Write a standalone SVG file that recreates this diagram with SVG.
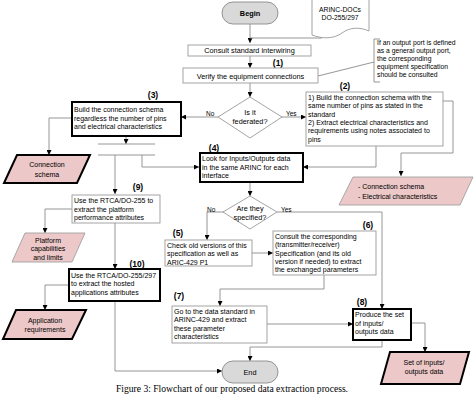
<svg xmlns="http://www.w3.org/2000/svg" width="474" height="411" viewBox="0 0 474 411">
<defs>
<marker id="ah" viewBox="0 0 6 6" refX="6" refY="3" markerWidth="5" markerHeight="5" markerUnits="userSpaceOnUse" orient="auto">
<path d="M0,0 L6,3 L0,6 z" fill="#000"/>
</marker>
<style>
.t{font-family:"Liberation Sans",Arial,sans-serif;font-size:7px;fill:#000}
.tc{font-family:"Liberation Sans",Arial,sans-serif;font-size:7.3px;fill:#000}
.n{font-family:"Liberation Sans",Arial,sans-serif;font-size:6.8px;fill:#000}
.lb{font-family:"Liberation Sans",Arial,sans-serif;font-size:8.5px;font-weight:bold;fill:#000}
.yn{font-family:"Liberation Sans",Arial,sans-serif;font-size:6.5px;fill:#000}
.thin{fill:#fff;stroke:#9a9a9a;stroke-width:0.9}
.thick{fill:#fff;stroke:#000;stroke-width:2}
.pill{fill:#d9d9d9;stroke:#8a8a8a;stroke-width:0.9}
.pk{fill:#ecc8c8;stroke:#a0a0a0;stroke-width:0.9}
.pkb{fill:#ecc8c8;stroke:#000;stroke-width:2}
.c{fill:none;stroke:#8a8a8a;stroke-width:0.9}
.ca{fill:none;stroke:#8a8a8a;stroke-width:0.9;marker-end:url(#ah)}
.cap{font-family:"Liberation Serif","Times New Roman",serif;font-size:9.6px;fill:#000}
</style>
</defs>
<rect width="474" height="411" fill="#fff"/>

<g id="connectors">
<path class="ca" d="M250,24 V43"/>
<path class="c" d="M250,38 H322"/>
<path class="ca" d="M250,56 V68"/>
<path class="c" d="M318,76 L374,62"/>
<path class="ca" d="M250,83 V97"/>
<path class="ca" d="M218,117 H181"/>
<path class="ca" d="M281,117 H306"/>
<path class="ca" d="M443,101 H453 V153 H401 V176"/>
<path class="ca" d="M376,146 V167 H303"/>
<path class="ca" d="M126,136 V144"/>
<path class="c" d="M98,144 H155 M98,155 H155"/>
<path class="ca" d="M115,155 V194"/>
<path class="ca" d="M142,155 V167 H199"/>
<path class="ca" d="M72,118 H49 V155"/>
<path class="ca" d="M250,182 V196"/>
<path class="ca" d="M224,212 H207 V240"/>
<path class="ca" d="M277,212 H382 V309"/>
<path class="ca" d="M252,253 H273"/>
<path class="ca" d="M324,275 V289 H220 V306"/>
<path class="ca" d="M267,324 H353"/>
<path class="ca" d="M411,323 H425 V352"/>
<path class="ca" d="M382,340 V347 H250 V361"/>
<path class="ca" d="M72,209 H45 V233"/>
<path class="ca" d="M115,223 V269"/>
<path class="ca" d="M69,285 H45 V310"/>
<path class="ca" d="M115,301 V371 H222"/>
<text class="yn" x="206" y="116">No</text>
<text class="yn" x="286" y="116">Yes</text>
<text class="yn" x="207" y="212">No</text>
<text class="yn" x="281" y="212">Yes</text>
</g>

<g id="begin">
<rect class="pill" x="222" y="2" width="56" height="22" rx="11"/>
<text class="tc" x="250" y="16" text-anchor="middle" font-weight="bold">Begin</text>
</g>

<g id="docs">
<path class="thin" d="M312,-1 H369 V31 C360,27 350,27 342,33 C334,39 322,39 312,35 Z"/>
<text class="n" x="340" y="12" text-anchor="middle">ARINC-DOCs</text>
<text class="n" x="340" y="20" text-anchor="middle">DO-255/297</text>
</g>

<g id="consult">
<rect class="thin" x="188" y="45" width="123" height="11"/>
<text class="tc" x="249.5" y="53" text-anchor="middle">Consult standard interwiring</text>
</g>

<g id="verify">
<text class="lb" x="278" y="66" text-anchor="middle">(1)</text>
<rect class="thin" x="183" y="68" width="135" height="15"/>
<text class="tc" x="250.5" y="78.5" text-anchor="middle">Verify the equipment connections</text>
</g>

<g id="note">
<path class="c" d="M380,39 H374 V82 H380"/>
<text class="n" x="377" y="45">If an output port is defined</text>
<text class="n" x="377" y="53">as a general output port,</text>
<text class="n" x="377" y="61">the corresponding</text>
<text class="n" x="377" y="69">equipment specification</text>
<text class="n" x="377" y="77">should be consulted</text>
</g>

<g id="federated">
<path class="thin" d="M250,97 L282,117 L250,138 L218,117 Z"/>
<text class="tc" x="250" y="115" text-anchor="middle">Is it</text>
<text class="tc" x="250" y="124" text-anchor="middle">federated?</text>
</g>

<g id="step3">
<text class="lb" x="153" y="98" text-anchor="middle">(3)</text>
<rect class="thick" x="72" y="102" width="109" height="34"/>
<text class="t" x="74" y="112">Build the connection schema</text>
<text class="t" x="74" y="120.5">regardless the number of pins</text>
<text class="t" x="74" y="129">and electrical characteristics</text>
</g>

<g id="step2">
<text class="lb" x="345" y="89" text-anchor="middle">(2)</text>
<rect class="thin" x="306" y="92" width="137" height="54"/>
<text class="t" x="308" y="100">1) Build the connection schema with the</text>
<text class="t" x="308" y="108.3">same number of pins as stated in the</text>
<text class="t" x="308" y="116.6">standard</text>
<text class="t" x="308" y="124.9">2) Extract electrical characteristics and</text>
<text class="t" x="308" y="133.2">requirements using notes associated to</text>
<text class="t" x="308" y="141.5">pins</text>
</g>

<g id="out-elec">
<path class="pk" d="M353,177 H473 L460,205 H339 Z"/>
<text class="t" x="358" y="189">- Connection schema</text>
<text class="t" x="358" y="199">- Electrical characteristics</text>
</g>

<g id="out-conn">
<path class="pkb" d="M17,155 H90 L77,183 H4 Z"/>
<text class="t" x="47" y="167" text-anchor="middle">Connection</text>
<text class="t" x="47" y="177" text-anchor="middle">schema</text>
</g>

<g id="step4">
<text class="lb" x="214" y="151" text-anchor="middle">(4)</text>
<rect class="thick" x="200" y="153" width="103" height="29"/>
<text class="t" x="202" y="161">Look for Inputs/Outputs data</text>
<text class="t" x="202" y="169.5">in the same ARINC for  each</text>
<text class="t" x="202" y="178">interface</text>
</g>

<g id="specified">
<path class="thin" d="M250,196 L277,212 L250,229 L223,212 Z"/>
<text class="tc" x="250" y="211" text-anchor="middle">Are they</text>
<text class="tc" x="250" y="219.5" text-anchor="middle">specified?</text>
</g>

<g id="step9">
<text class="lb" x="138" y="190" text-anchor="middle">(9)</text>
<rect class="thin" x="72" y="195" width="88" height="28"/>
<text class="t" x="74" y="203">Use the RTCA/DO-255 to</text>
<text class="t" x="74" y="211.5">extract the platform</text>
<text class="t" x="74" y="220">performance attributes</text>
</g>

<g id="out-platform">
<path class="pk" d="M25,233 H85 L72,262 H12 Z"/>
<text class="t" x="48" y="242.5" text-anchor="middle">Platform</text>
<text class="t" x="48" y="251" text-anchor="middle">capabilities</text>
<text class="t" x="48" y="259.5" text-anchor="middle">and limits</text>
</g>

<g id="step5">
<text class="lb" x="178" y="236" text-anchor="middle">(5)</text>
<rect class="thin" x="165" y="240" width="87" height="26"/>
<text class="t" x="167" y="248">Check old versions of this</text>
<text class="t" x="167" y="256.3">specification as well as</text>
<text class="t" x="167" y="264.6">ARIC-429 P1</text>
</g>

<g id="step6">
<text class="lb" x="368" y="228" text-anchor="middle">(6)</text>
<rect class="thin" x="273" y="231" width="103" height="44"/>
<text class="t" x="275" y="239">Consult the corresponding</text>
<text class="t" x="275" y="247.3">(transmitter/receiver)</text>
<text class="t" x="275" y="255.6">Specification (and its old</text>
<text class="t" x="275" y="263.9">version if needed) to extract</text>
<text class="t" x="275" y="272.2">the exchanged parameters</text>
</g>

<g id="step10">
<text class="lb" x="137" y="267" text-anchor="middle">(10)</text>
<rect class="thick" x="69" y="269" width="91" height="32"/>
<text class="t" x="71" y="277.5">Use the RTCA/DO-255/297</text>
<text class="t" x="71" y="286">to extract the hosted</text>
<text class="t" x="71" y="294.5">applications attributes</text>
</g>

<g id="out-app">
<path class="pkb" d="M16,310 H86 L72,339 H3 Z"/>
<text class="t" x="45" y="323" text-anchor="middle">Application</text>
<text class="t" x="45" y="332" text-anchor="middle">requirements</text>
</g>

<g id="step7">
<text class="lb" x="179" y="299" text-anchor="middle">(7)</text>
<rect class="thin" x="172" y="306" width="95" height="37"/>
<text class="t" x="174" y="314">Go to the data standard in</text>
<text class="t" x="174" y="322.3">ARINC-429 and extract</text>
<text class="t" x="174" y="330.6">these parameter</text>
<text class="t" x="174" y="338.9">characteristics</text>
</g>

<g id="step8">
<text class="lb" x="362" y="305" text-anchor="middle">(8)</text>
<rect class="thick" x="353" y="309" width="58" height="31"/>
<text class="t" x="355" y="317">Produce the set</text>
<text class="t" x="355" y="325.5">of inputs/</text>
<text class="t" x="355" y="334">outputs data</text>
</g>

<g id="out-set">
<path class="pkb" d="M390,352 H469 L460,384 H381 Z"/>
<text class="t" x="424" y="365" text-anchor="middle">Set of inputs/</text>
<text class="t" x="424" y="374" text-anchor="middle">outputs data</text>
</g>

<g id="end">
<rect class="pill" x="222" y="361" width="56" height="22" rx="11"/>
<text class="tc" x="250" y="374.5" text-anchor="middle">End</text>
</g>

<text class="cap" x="232" y="392" text-anchor="middle">Figure 3: Flowchart of our proposed data extraction process.</text>
</svg>
